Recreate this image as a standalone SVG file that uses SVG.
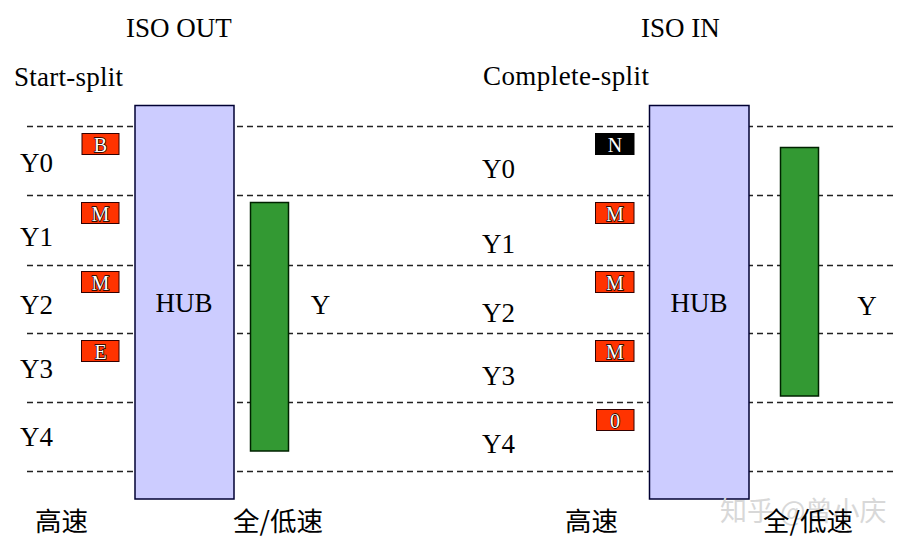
<svg xmlns="http://www.w3.org/2000/svg" width="911" height="546" viewBox="0 0 911 546">
<style>
.t{font-family:"Liberation Serif","Times New Roman",serif;fill:#000}
.big{font-size:27px}
.cjk{font-family:"Noto Sans CJK SC","Noto Sans CJK JP",sans-serif;font-size:26.5px;fill:#000}
.grid{stroke:#222;stroke-width:1.3;stroke-dasharray:6 4;fill:none}
.hub{fill:#CCCCFF;stroke:#000033;stroke-width:1.5}
.bar{fill:#339933;stroke:#002200;stroke-width:1.5}
.pkt{fill:#FF3300;stroke:#330000;stroke-width:1}
.pktN{fill:#000;stroke:#000;stroke-width:1}
.lbl{font-family:"Liberation Serif","Times New Roman",serif;font-size:20px;fill:#fff;stroke:#000;stroke-width:1.3;paint-order:stroke;text-anchor:middle}
.wm{font-family:"Noto Sans CJK SC",sans-serif;font-size:27px;fill:#d8d8d8}
</style>
<rect width="911" height="546" fill="#fff"/>

<g id="gridlines">
<line class="grid" x1="27" y1="126.5" x2="895" y2="126.5"/>
<line class="grid" x1="27" y1="195.5" x2="895" y2="195.5"/>
<line class="grid" x1="27" y1="265.5" x2="895" y2="265.5"/>
<line class="grid" x1="27" y1="333.5" x2="895" y2="333.5"/>
<line class="grid" x1="27" y1="402.5" x2="895" y2="402.5"/>
<line class="grid" x1="27" y1="471.5" x2="895" y2="471.5"/>
</g>

<g id="titles">
<text class="t big" x="126" y="37">ISO OUT</text>
<text class="t big" x="641" y="37">ISO IN</text>
<text class="t big" x="14" y="86" textLength="109">Start-split</text>
<text class="t big" x="483" y="85" textLength="166">Complete-split</text>
</g>

<g id="left-ylabels">
<text class="t big" x="20" y="172">Y0</text>
<text class="t big" x="20" y="246">Y1</text>
<text class="t big" x="20" y="314">Y2</text>
<text class="t big" x="20" y="378">Y3</text>
<text class="t big" x="20" y="446">Y4</text>
</g>

<g id="right-ylabels">
<text class="t big" x="482" y="178">Y0</text>
<text class="t big" x="482" y="253">Y1</text>
<text class="t big" x="482" y="322">Y2</text>
<text class="t big" x="482" y="385">Y3</text>
<text class="t big" x="482" y="453">Y4</text>
</g>

<g id="hub-left">
<rect class="hub" x="135" y="105.5" width="99" height="393.5"/>
<text class="t big" x="184" y="312" text-anchor="middle">HUB</text>
</g>

<g id="bar-left">
<rect class="bar" x="250.5" y="202.5" width="38" height="248.5"/>
<text class="t big" x="320.5" y="314" text-anchor="middle">Y</text>
</g>

<g id="hub-right">
<rect class="hub" x="649.5" y="105.5" width="99.5" height="393.5"/>
<text class="t big" x="699" y="312" text-anchor="middle">HUB</text>
</g>

<g id="bar-right">
<rect class="bar" x="780.5" y="147.5" width="38" height="248.5"/>
<text class="t big" x="867" y="315" text-anchor="middle">Y</text>
</g>

<g id="pkt-B"><rect class="pkt" x="82" y="133.5" width="37" height="21"/><text class="lbl" x="100.5" y="151.5">B</text></g>
<g id="pkt-M1"><rect class="pkt" x="81.5" y="202.5" width="37.5" height="21"/><text class="lbl" x="100.5" y="220.5">M</text></g>
<g id="pkt-M2"><rect class="pkt" x="81.5" y="271.5" width="37.5" height="21"/><text class="lbl" x="100.5" y="289.5">M</text></g>
<g id="pkt-E"><rect class="pkt" x="81.5" y="340.5" width="37.5" height="21"/><text class="lbl" x="100.5" y="358.5">E</text></g>

<g id="pkt-N"><rect class="pktN" x="595.5" y="133.5" width="38.5" height="21"/><text class="lbl" x="615" y="151.5">N</text></g>
<g id="pkt-M3"><rect class="pkt" x="595.5" y="202.5" width="38.5" height="21"/><text class="lbl" x="615" y="220.5">M</text></g>
<g id="pkt-M4"><rect class="pkt" x="595.5" y="271.5" width="38.5" height="21"/><text class="lbl" x="615" y="289.5">M</text></g>
<g id="pkt-M5"><rect class="pkt" x="595.5" y="340.5" width="38.5" height="21"/><text class="lbl" x="615" y="358.5">M</text></g>
<g id="pkt-0"><rect class="pkt" x="596.5" y="409.5" width="37.5" height="21"/><text class="lbl" x="615" y="427.5">0</text></g>

<g id="watermark">
<text class="wm" x="720" y="521">知乎 @曾小庆</text>
</g>

<g id="speed-labels">
<text class="cjk" x="35" y="531">高速</text>
<text class="cjk" x="233" y="531">全/低速</text>
<text class="cjk" x="565" y="531">高速</text>
<text class="cjk" x="763" y="531">全/低速</text>
</g>
</svg>
